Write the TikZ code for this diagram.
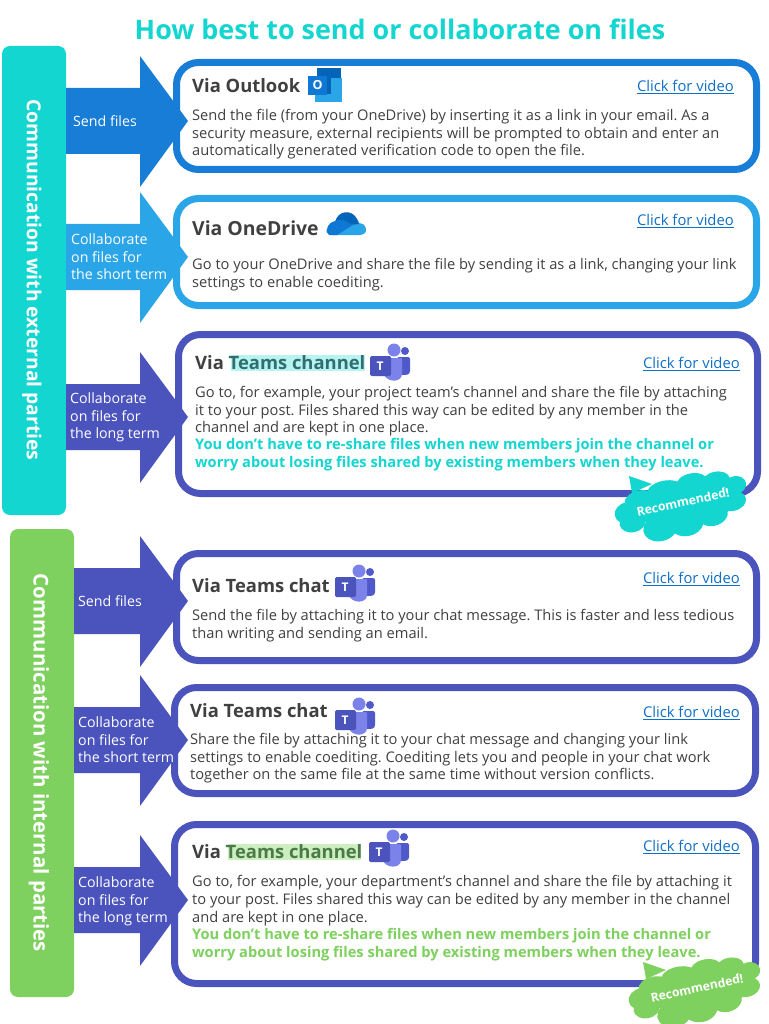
\documentclass[tikz,border=0pt]{standalone}
\usepackage{fontspec}
\setmainfont{Open Sans}
\frenchspacing
\definecolor{teal}{HTML}{14D6D0}
\definecolor{grn}{HTML}{7ED05F}
\definecolor{blueA}{HTML}{187DD6}
\definecolor{blueB}{HTML}{2AA5E8}
\definecolor{ind}{HTML}{4B53BC}
\definecolor{indL}{HTML}{7B83EB}
\definecolor{indM}{HTML}{5059C9}
\definecolor{txt}{HTML}{404040}
\definecolor{lnk}{HTML}{0F6FC6}
\definecolor{hlT}{HTML}{B8F3F0}
\definecolor{hlG}{HTML}{CDEFC0}
\definecolor{oneD}{HTML}{0364B8}
\definecolor{oneM}{HTML}{0F78D4}
\definecolor{headT}{HTML}{2F6F72}
\definecolor{headG}{HTML}{4A7A48}
\newcommand{\bodyf}{\fontsize{14.65}{17.6}\selectfont}
\newcommand{\headf}{\fontsize{18.4}{20}\bfseries\selectfont}
\newcommand{\armf}{\fontsize{14.2}{17.6}\selectfont}
\tikzset{
 card/.style={draw=#1,line width=7pt,fill=white,rounded corners=22pt},
 bodytext/.style={anchor=north west,inner sep=0pt,align=left,text=txt,font=\bodyf},
 head/.style={anchor=west,inner sep=0pt,text=txt,font=\headf},
 clicklink/.style={anchor=east,inner sep=0pt,text=lnk,font=\fontsize{14.8}{17}\selectfont},
 armtext/.style={anchor=west,inner sep=0pt,align=left,text=white,font=\armf},
 sidetext/.style={rotate=-90,inner sep=0pt,text=white},
 hot/.style={anchor=north west,inner sep=0pt,align=left,font=\fontsize{14.65}{17.6}\bfseries\selectfont},
 bar/.style={fill=#1,rounded corners=8pt},
}
\newcommand{\arrowshape}[3]{\fill[#1] (#2,#3-33) -- (140,#3-33) -- (140,#3-65) -- (188,#3) -- (140,#3+66) -- (140,#3+33) -- (#2,#3+33) -- cycle;}
\newcommand{\teamsicon}[2]{\begin{scope}[shift={(#1,#2)}]
 \fill[indL] (25,6) circle (6.5);
 \fill[indM] (36,7) circle (4);
 \fill[indM,rounded corners=2pt] (28,13) -- (41,13) -- (41,25) .. controls (41,31) and (37,31) .. (31,31) -- cycle;
 \fill[indL,rounded corners=1pt] (14,14) -- (33,14) -- (33,29) .. controls (33,39) and (17,39) .. (14,28) -- cycle;
 \fill[ind,rounded corners=1.5pt] (1,12) rectangle (22,32);
 \node[inner sep=0pt,text=white,font=\fontsize{12}{12}\bfseries\selectfont] (t#1x#2) at (11,22) {T};
\end{scope}}
% centre x, centre y, colour, text node name
\newcommand{\recocloud}[4]{
 \fill[#3] (#1-51,#2-29) -- (#1-28,#2-21) -- (#1-48,#2-12) -- cycle;
 \begin{scope}[shift={(#1,#2)},rotate=11]
 \foreach \x/\y/\a/\b in {-52/-2/14/11,-38/-12/16/10,-12/-17/18/10,16/-19/16/10,40/-17/14/9,58/-9/11/9,52/6/14/10,30/14/16/13,3/19/17/13,-24/19/17/13,-50/8/13/10,0/-1/52/16}
  \fill[#3] (\x,\y) ellipse ({\a} and {\b});
 \end{scope}
 \node[inner sep=0pt,text=white,rotate=12,font=\fontsize{12.2}{12.2}\bfseries\selectfont] (#4) at (#1+3,#2-3) {Recommended!};
}
\begin{document}
\begin{tikzpicture}[x=1pt,y=-1pt]
\useasboundingbox (0,0) rectangle (768,1024);
\fill[white] (0,0) rectangle (768,1024);
\node[inner sep=0pt,text=teal,font=\fontsize{26.9}{30}\bfseries\selectfont] (title) at (400,29) {How best to send or collaborate on files};
\fill[bar=teal] (2,46) rectangle (66,515);
\fill[bar=grn] (10,529) rectangle (74,997);
\node[sidetext,font=\fontsize{19.3}{22}\bfseries\selectfont] (s1) at (32,280) {Communication with external parties};
\node[sidetext,font=\fontsize{20.4}{22}\bfseries\selectfont] (s2) at (39,763) {Communication with internal parties};
\draw[card=blueA] (176.5,62.5) rectangle (756.5,169.5);
\draw[card=blueB] (176.5,198.5) rectangle (756.5,305.5);
\draw[card=ind] (178.5,334.5) rectangle (757.5,493.5);
\draw[card=ind] (176.5,553.5) rectangle (756.5,660.5);
\draw[card=ind] (174.5,687.5) rectangle (755.5,793.5);
\draw[card=ind] (174.5,824.5) rectangle (755.5,983.5);
\arrowshape{blueA}{66}{121}
\arrowshape{blueB}{66}{257}
\arrowshape{ind}{66}{417}
\arrowshape{ind}{74}{601}
\arrowshape{ind}{74}{740}
\arrowshape{ind}{74}{900}
\node[armtext] (a1) at (73,121) {Send files};
\node[armtext] (a2) at (71,257) {Collaborate\\on files for\\the short term};
\node[armtext] (a3) at (70,417.5) {Collaborate\\on files for\\the long term};
\node[armtext] (a4) at (78,601) {Send files};
\node[armtext] (a5) at (78,740) {Collaborate\\on files for\\the short term};
\node[armtext] (a6) at (78,901.5) {Collaborate\\on files for\\the long term};
\fill[hlT] (231,355) rectangle (365,371);
\fill[hlG] (228,844) rectangle (361,860);
\node[head] (h1) at (192,86) {Via Outlook};
\node[head,font=\fontsize{19.4}{20}\bfseries\selectfont] (h2) at (192,228) {Via OneDrive};
\node[head] (h3) at (195,363) {Via \textcolor{headT}{Teams channel}};
\node[head] (h4) at (192,586) {Via Teams chat};
\node[head] (h5) at (190,711) {Via Teams chat};
\node[head] (h6) at (192,852) {Via \textcolor{headG}{Teams channel}};
\node[clicklink] (k1) at (734,87) {\underline{Click for video}};
\node[clicklink] (k2) at (734,221) {\underline{Click for video}};
\node[clicklink] (k3) at (740,364) {\underline{Click for video}};
\node[clicklink] (k4) at (740,579) {\underline{Click for video}};
\node[clicklink] (k5) at (740,713) {\underline{Click for video}};
\node[clicklink] (k6) at (740,847) {\underline{Click for video}};
\node[bodytext] (b1) at (192,109) {Send the file (from your OneDrive) by inserting it as a link in your email. As a\\security measure, external recipients will be prompted to obtain and enter an\\automatically generated verification code to open the file.};
\node[bodytext] (b2) at (192,258) {Go to your OneDrive and share the file by sending it as a link, changing your link\\settings to enable coediting.};
\node[bodytext] (b3) at (195,386) {Go to, for example, your project team’s channel and share the file by attaching\\it to your post. Files shared this way can be edited by any member in the\\channel and are kept in one place.};
\node[hot,text=teal] (c3) at (195,438.5) {You don’t have to re-share files when new members join the channel or\\worry about losing files shared by existing members when they leave.};
\node[bodytext] (b4) at (192,609) {Send the file by attaching it to your chat message. This is faster and less tedious\\than writing and sending an email.};
\node[bodytext] (b5) at (190,733) {Share the file by attaching it to your chat message and changing your link\\settings to enable coediting. Coediting lets you and people in your chat work\\together on the same file at the same time without version conflicts.};
\node[bodytext] (b6) at (192,875.5) {Go to, for example, your department’s channel and share the file by attaching it\\to your post. Files shared this way can be edited by any member in the channel\\and are kept in one place.};
\node[hot,text=grn] (c6) at (192,928) {You don’t have to re-share files when new members join the channel or\\worry about losing files shared by existing members when they leave.};
\begin{scope}[shift={(307,68)}]
 \fill[oneD] (10,0) rectangle (34,10);
 \fill[blueA] (10,10) rectangle (22,22);
 \fill[blueB] (22,10) rectangle (35,22);
 \fill[blueB] (8,20) rectangle (35,34);
 \fill[oneD] (20,10) rectangle (24,26);
 \fill[oneM] (1,8) rectangle (20,27);
 \node[inner sep=0pt,text=white,font=\fontsize{12.5}{12.5}\bfseries\selectfont] (oi) at (10.5,17.5) {O};
\end{scope}
\begin{scope}[shift={(327,211)}]
 \fill[blueB,rounded corners=3pt] (2,24) -- (36,24) .. controls (40,20) and (39,13) .. (31,12) -- (12,12) .. controls (1,13) and (-2,20) .. (2,24) -- cycle;
 \fill[oneD] (8,11) .. controls (11,-1) and (25,-2) .. (30,8) .. controls (31,10) and (32,11) .. (32,13) -- (22,14) -- (12,15) -- cycle;
 \fill[oneM] (8,10) .. controls (2,11) and (-3,18) .. (2,24) -- (10,24) -- (26,14) -- (16,9) .. controls (13,8) and (11,9) .. (8,10) -- cycle;
\end{scope}
\teamsicon{369}{344}
\teamsicon{334}{565}
\teamsicon{334}{698}
\teamsicon{368}{830}
\recocloud{680}{505}{teal}{r1}
\recocloud{694}{991}{grn}{r2}
\end{tikzpicture}
\end{document}
